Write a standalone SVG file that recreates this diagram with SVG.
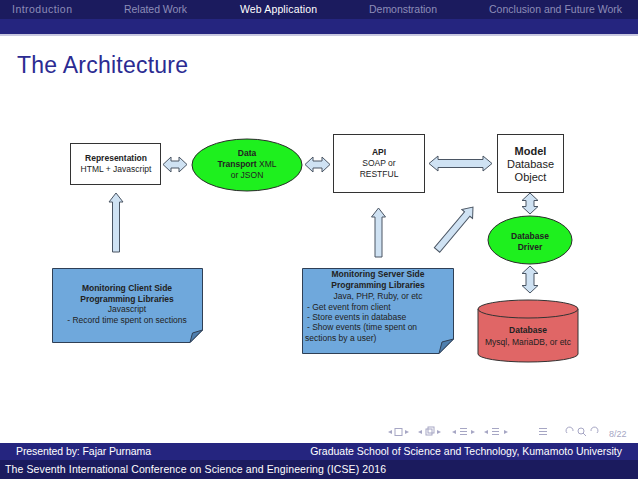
<svg xmlns="http://www.w3.org/2000/svg" width="638" height="479" viewBox="0 0 638 479">
<style>
.nav{font-family:"Liberation Sans",Arial,sans-serif;font-size:10.5px;fill:#8d8db8}
.navon{font-family:"Liberation Sans",Arial,sans-serif;font-size:10.5px;fill:#ffffff}
.foot{font-family:"Liberation Sans",Arial,sans-serif;font-size:10.5px;fill:#ffffff}
.t{font-family:"Liberation Sans",Arial,sans-serif;font-size:8.5px;fill:#222222}
.big{font-size:11px}
.b{font-weight:bold}
.box{fill:#ffffff;stroke:#333333;stroke-width:1}
.ell{fill:#1ef01e;stroke:#2a2a2a;stroke-width:1}
.note{fill:#6fa8dc;stroke:#2f3f55;stroke-width:1}
.fold{fill:#4f7fae;stroke:#2f3f55;stroke-width:1}
.arr{fill:#cfe2f3;stroke:#4a5563;stroke-width:1}
.db{fill:#e06666;stroke:#333333;stroke-width:1}
.ns{fill:#a6a6c4}
</style>
<rect x="0" y="0" width="638" height="479" fill="#ffffff"/>
<!-- header -->
<rect x="0" y="0" width="638" height="19" fill="#1b1b5e"/>
<rect x="0" y="19" width="638" height="15" fill="#25257f"/>
<rect x="0" y="34" width="638" height="2" fill="#c8c8e0"/>
<text class="nav" x="12" y="13" textLength="60">Introduction</text>
<text class="nav" x="124" y="13" textLength="63">Related Work</text>
<text class="navon" x="240" y="13" textLength="77">Web Application</text>
<text class="nav" x="369" y="13" textLength="68">Demonstration</text>
<text class="nav" x="489" y="13" textLength="133">Conclusion and Future Work</text>
<!-- title -->
<text x="17" y="73" font-family="Liberation Sans,Arial,sans-serif" font-size="23" fill="#2b2b92" textLength="171">The Architecture</text>

<!-- connectors -->
<g id="connectors">
<polygon class="arr" points="163,164.5 171,157 171,161 179,161 179,157 187,164.5 179,172 179,168 171,168 171,172"/>
<polygon class="arr" points="305,164.5 313,157 313,161 322,161 322,157 330,164.5 322,172 322,168 313,168 313,172"/>
<polygon class="arr" points="429,163.5 438,156 438,159.5 483,159.5 483,156 492,163.5 483,171 483,167.5 438,167.5 438,171"/>
<polygon class="arr" points="530,193 538,200.5 534,200.5 534,206.5 538,206.5 530,214 522,206.5 526,206.5 526,200.5 522,200.5"/>
<polygon class="arr" points="530,266 538,273.5 534,273.5 534,285.5 538,285.5 530,293 522,285.5 526,285.5 526,273.5 522,273.5"/>
<polygon class="arr" points="116,193 123,202 119.5,202 119.5,252 112.5,252 112.5,202 109,202"/>
<polygon class="arr" points="378.5,208 385.5,217 382,217 382,257 375,257 375,217 371.5,217"/>
<polygon class="arr" transform="translate(437,250) rotate(40)" points="0,-56 7,-47 3.5,-47 3.5,0 -3.5,0 -3.5,-47 -7,-47"/>
</g>

<g id="representation">
<rect class="box" x="70.5" y="143.5" width="90" height="41"/>
<text class="t b" x="116" y="161" text-anchor="middle">Representation</text>
<text class="t" x="116" y="172" text-anchor="middle">HTML + Javascript</text>
</g>

<g id="data-transport">
<ellipse class="ell" cx="247" cy="165" rx="55" ry="26"/>
<text class="t b" x="247" y="156" text-anchor="middle">Data</text>
<text class="t" x="247" y="167" text-anchor="middle"><tspan class="b">Transport</tspan> XML</text>
<text class="t" x="247" y="178" text-anchor="middle">or JSON</text>
</g>

<g id="api">
<rect class="box" x="333.5" y="134.5" width="91" height="58"/>
<text class="t b" x="379" y="155" text-anchor="middle">API</text>
<text class="t" x="379" y="166" text-anchor="middle">SOAP or</text>
<text class="t" x="379" y="177" text-anchor="middle">RESTFUL</text>
</g>

<g id="model">
<rect class="box" x="497.5" y="134.5" width="66" height="58"/>
<text class="t big b" x="530.5" y="155" text-anchor="middle">Model</text>
<text class="t big" x="530.5" y="168" text-anchor="middle">Database</text>
<text class="t big" x="530.5" y="181" text-anchor="middle">Object</text>
</g>

<g id="database-driver">
<ellipse class="ell" cx="530" cy="240" rx="42" ry="24"/>
<text class="t b" x="530" y="239" text-anchor="middle">Database</text>
<text class="t b" x="530" y="250" text-anchor="middle">Driver</text>
</g>

<g id="database">
<path class="db" d="M478,309 L478,354 A50,8 0 0 0 578,354 L578,309 Z"/>
<ellipse class="db" cx="528" cy="309" rx="50" ry="9"/>
<text class="t b" x="528" y="333" text-anchor="middle">Database</text>
<text class="t" x="528" y="345" text-anchor="middle">Mysql, MariaDB, or etc</text>
</g>

<g id="client-note">
<polygon class="note" points="52.5,268.5 202.5,268.5 202.5,330 190,342.5 52.5,342.5"/>
<polygon class="fold" points="202.5,330 190,342.5 192.5,333"/>
<text class="t b" x="127" y="291" text-anchor="middle">Monitoring Client Side</text>
<text class="t b" x="127" y="302" text-anchor="middle">Programming Libraries</text>
<text class="t" x="127" y="312" text-anchor="middle">Javascript</text>
<text class="t" x="127" y="323" text-anchor="middle">- Record time spent on sections</text>
</g>

<g id="server-note">
<polygon class="note" points="302.5,268.5 453.5,268.5 453.5,339 439,353.5 302.5,353.5"/>
<polygon class="fold" points="453.5,339 439,353.5 442,342"/>
<text class="t b" x="378" y="277" text-anchor="middle">Monitoring Server Side</text>
<text class="t b" x="378" y="288" text-anchor="middle">Programming  Libraries</text>
<text class="t" x="378" y="299" text-anchor="middle">Java, PHP, Ruby, or etc</text>
<text class="t" x="307" y="310">- Get event from client</text>
<text class="t" x="307" y="320">- Store events in database</text>
<text class="t" x="307" y="330">- Show events (time spent on</text>
<text class="t" x="305" y="341">sections by a user)</text>
</g>

<!-- navigation symbols -->
<g>
<polygon class="ns" points="388,432 392,430 392,434"/>
<rect x="395" y="428.5" width="7" height="7" fill="none" stroke="#a6a6c4" stroke-width="1"/>
<polygon class="ns" points="409,432 405,430 405,434"/>
<polygon class="ns" points="418,432 422,430 422,434"/>
<rect x="426" y="429" width="6" height="6" fill="none" stroke="#a6a6c4" stroke-width="1"/>
<rect x="428" y="427" width="6" height="6" fill="none" stroke="#a6a6c4" stroke-width="1"/>
<polygon class="ns" points="441,432 437,430 437,434"/>
<polygon class="ns" points="452,432 456,430 456,434"/>
<rect x="460" y="428" width="7" height="1" class="ns"/><rect x="460" y="431" width="7" height="1" class="ns"/><rect x="460" y="434" width="7" height="1" class="ns"/>
<polygon class="ns" points="475,432 471,430 471,434"/>
<polygon class="ns" points="484,432 488,430 488,434"/>
<rect x="492" y="428" width="7" height="1" class="ns"/><rect x="492" y="431" width="7" height="1" class="ns"/><rect x="492" y="434" width="7" height="1" class="ns"/>
<polygon class="ns" points="508,432 504,430 504,434"/>
<rect x="539" y="428" width="8" height="1" class="ns"/><rect x="539" y="431" width="8" height="1" class="ns"/><rect x="539" y="434" width="8" height="1" class="ns"/>
<path d="M567,433 A3.5,3.5 0 1 1 573,431" fill="none" stroke="#a6a6c4" stroke-width="1"/>
<circle cx="581" cy="431" r="3" fill="none" stroke="#a6a6c4" stroke-width="1"/>
<line x1="583" y1="433" x2="586" y2="436" stroke="#a6a6c4" stroke-width="1"/>
<path d="M597,433 A3.5,3.5 0 1 0 591,431" fill="none" stroke="#a6a6c4" stroke-width="1"/>
<text x="609" y="437" font-family="Liberation Sans,Arial,sans-serif" font-size="9" fill="#a6a6c4">8/22</text>
</g>

<!-- footer -->
<rect x="0" y="443" width="638" height="17" fill="#25257f"/>
<rect x="0" y="460" width="638" height="19" fill="#1b1b5e"/>
<text class="foot" x="16" y="455" textLength="135">Presented by: Fajar Purnama</text>
<text class="foot" x="622" y="455" text-anchor="end">Graduate School of Science and Technology, Kumamoto University</text>
<text class="foot" x="5" y="473" textLength="381">The Seventh International Conference on Science and Engineering (ICSE) 2016</text>
</svg>
